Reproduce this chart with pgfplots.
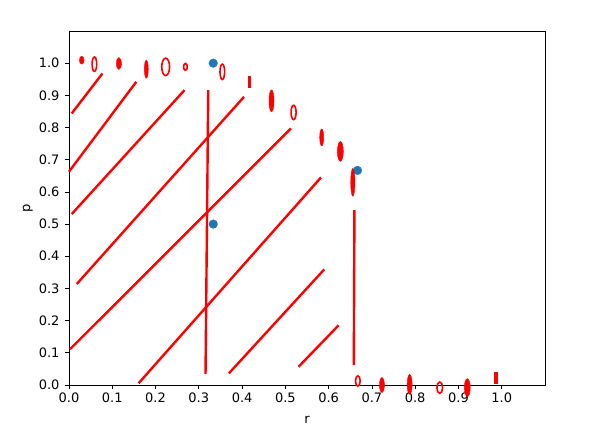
\documentclass[border=0pt]{standalone}
\usepackage{pgfplots}
\pgfplotsset{compat=1.18}
\usepackage{fontspec}
\setmainfont{DejaVu Sans}
\definecolor{mplblue}{HTML}{1F77B4}
\begin{document}
\fontsize{13}{15}\selectfont
\begin{tikzpicture}
\begin{axis}[
  scale only axis, width=476pt, height=354pt,
  xmin=0, xmax=1.1, ymin=0, ymax=1.1,
  xtick={0,0.1,0.2,0.3,0.4,0.5,0.6,0.7,0.8,0.9,1.0},
  ytick={0,0.1,0.2,0.3,0.4,0.5,0.6,0.7,0.8,0.9,1.0},
  tick pos=left, tick align=outside, major tick length=4.5pt,
  tick style={black, line width=0.8pt},
  axis line style={line width=0.8pt},
  /pgf/number format/.cd, fixed, fixed zerofill, precision=1, assume math mode=true,
  /pgfplots/.cd,
  xticklabel style={yshift=1pt}, yticklabel style={xshift=-0.5pt},
  xlabel={r}, ylabel={p},
  xlabel style={yshift=-4pt}, ylabel style={yshift=-3pt},
  clip=false,
]
\addplot[only marks, mark=*, mark size=4.3pt, color=mplblue] coordinates {(0.3333,1.0) (0.6667,0.6667) (0.3333,0.5)};
% diagonal and vertical line segments
\addplot[red, line width=2.4pt] coordinates {(0.0063,0.8438) (0.0773,0.9680)};
\addplot[red, line width=2.4pt] coordinates {(0.0,0.6630) (0.1555,0.9420)};
\addplot[red, line width=2.4pt] coordinates {(0.0062,0.5310) (0.2668,0.9160)};
\addplot[red, line width=2.4pt] coordinates {(0.0179,0.3137) (0.4044,0.8953)};
\addplot[red, line width=2.4pt] coordinates {(0.0023,0.1109) (0.5128,0.7972)};
\addplot[red, line width=2.4pt] coordinates {(0.1608,0.0053) (0.5824,0.6450)};
\addplot[red, line width=2.4pt] coordinates {(0.3696,0.0363) (0.5900,0.3593)};
\addplot[red, line width=2.4pt] coordinates {(0.5306,0.0568) (0.6230,0.1854)};
\addplot[red, line width=2.4pt] coordinates {(0.3218,0.9160) (0.3155,0.0342)};
\addplot[red, line width=2.4pt] coordinates {(0.6596,0.5435) (0.6582,0.0621)};
% short bars
\addplot[red, line width=3.5pt] coordinates {(0.4176,0.9214) (0.4176,0.9586)};
\addplot[red, line width=4pt] coordinates {(0.9861,0.0041) (0.9861,0.0414)};
% filled ellipses
\addplot[only marks, red, mark=*, mark size=4pt, mark options={xscale=0.6}] coordinates {(0.0295,1.0093)};
\addplot[only marks, red, mark=*, mark size=6pt, mark options={xscale=0.42}] coordinates {(0.1153,0.9991)};
\addplot[only marks, red, mark=*, mark size=9pt, mark options={xscale=0.22}] coordinates {(0.1787,0.9814)};
\addplot[only marks, red, mark=*, mark size=11pt, mark options={xscale=0.23}] coordinates {(0.4680,0.8829)};
\addplot[only marks, red, mark=*, mark size=8.5pt, mark options={xscale=0.24}] coordinates {(0.5840,0.7693)};
\addplot[only marks, red, mark=*, mark size=10pt, mark options={xscale=0.3}] coordinates {(0.6271,0.7258)};
\addplot[only marks, red, mark=*, mark size=14pt, mark options={xscale=0.15}] coordinates {(0.6559,0.6298)};
\addplot[only marks, red, mark=*, mark size=7.5pt, mark options={xscale=0.33}] coordinates {(0.7232,0.0)};
\addplot[only marks, red, mark=*, mark size=10pt, mark options={xscale=0.25}] coordinates {(0.7872,0.0020)};
\addplot[only marks, red, mark=*, mark size=9pt, mark options={xscale=0.33}] coordinates {(0.9204,-0.0084)};
% open ellipses
\addplot[only marks, red, mark=o, mark size=7.2pt, mark options={xscale=0.32, line width=1.6pt, fill=white}] coordinates {(0.0587,0.9969)};
\addplot[only marks, red, mark=o, mark size=8.7pt, mark options={xscale=0.45, line width=1.6pt, fill=white}] coordinates {(0.2234,0.9885)};
\addplot[only marks, red, mark=o, mark size=3.4pt, mark options={xscale=0.55, line width=1.6pt, fill=white}] coordinates {(0.2691,0.9885)};
\addplot[only marks, red, mark=o, mark size=7.7pt, mark options={xscale=0.3, line width=1.6pt, fill=white}] coordinates {(0.3543,0.9730)};
\addplot[only marks, red, mark=o, mark size=7.2pt, mark options={xscale=0.35, line width=1.6pt, fill=white}] coordinates {(0.5190,0.8469)};
\addplot[only marks, red, mark=o, mark size=5.2pt, mark options={xscale=0.45, line width=1.6pt, fill=white}] coordinates {(0.6675,0.0124)};
\addplot[only marks, red, mark=o, mark size=5.7pt, mark options={xscale=0.5, line width=1.6pt, fill=white}] coordinates {(0.8568,-0.0084)};
\end{axis}
\path[use as bounding box] ([xshift=-69pt,yshift=-55pt]current axis.south west) rectangle ([xshift=50pt,yshift=31pt]current axis.north east);
\end{tikzpicture}
\end{document}
